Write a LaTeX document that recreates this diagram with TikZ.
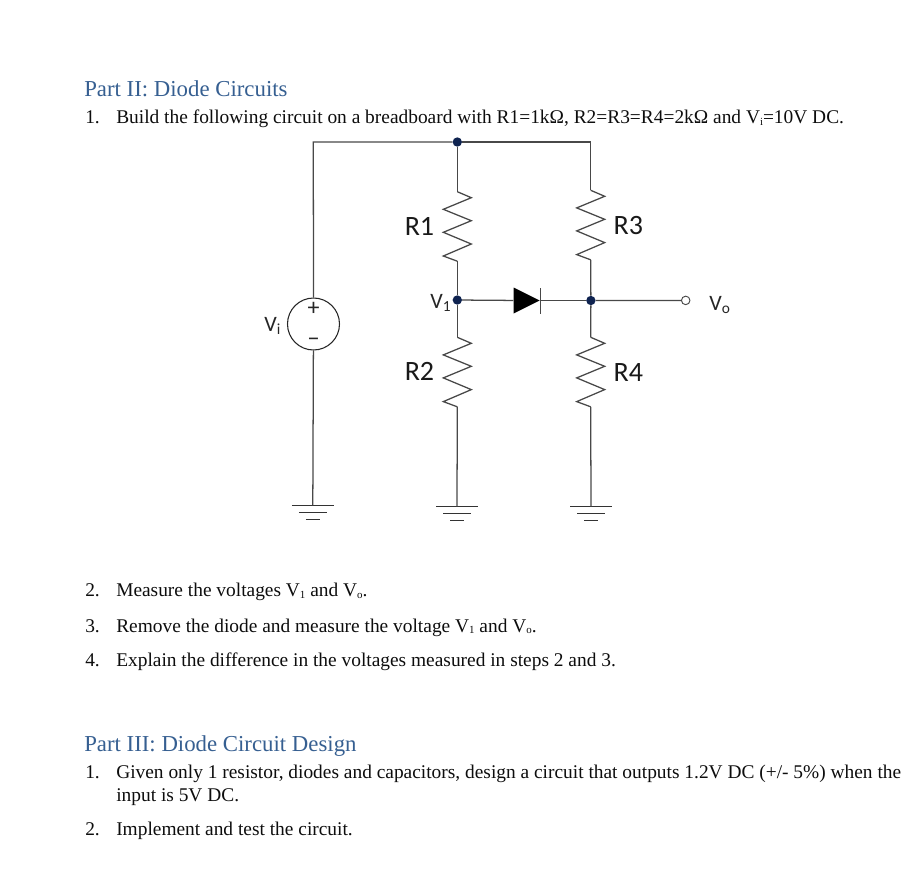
\documentclass[tikz,border=0pt]{standalone}
\usepackage{fontspec}
\setmainfont{Liberation Serif}
\setsansfont{Carlito}
\usepackage{xcolor}
\usepackage{tikz}
\usetikzlibrary{
    arrows.meta,
    calc,
    positioning,
    shapes.geometric
}
\definecolor{wire_gray}{HTML}{484848}
\definecolor{dot_navy}{HTML}{0F2350}
\definecolor{head_blue}{HTML}{365F91}
\newcommand{\lowsub}[1]{\raisebox{-1.2pt}{\fontsize{8.2}{9}\selectfont #1}}

\begin{document}
\begin{tikzpicture}[
    x=0.75pt,
    y=-0.75pt,
    wire_style/.style={
        draw=wire_gray,
        line width=0.95pt
    },
    gnd_style/.style={
        draw=black!80,
        line width=0.95pt
    },
    dot_style/.style={
        circle,
        fill=dot_navy,
        inner sep=0pt,
        minimum size=7pt
    },
    pin_style/.style={
        circle,
        draw=wire_gray,
        fill=white,
        line width=0.7pt,
        inner sep=0pt,
        minimum size=6.4pt
    },
    source_style/.style={
        circle,
        draw=black!85,
        line width=0.8pt,
        inner sep=0pt,
        minimum size=39pt
    },
    diode_style/.style={
        isosceles triangle,
        isosceles triangle stretches,
        shape border rotate=0,
        fill=black,
        inner sep=0pt,
        minimum width=19.5pt,
        minimum height=19.5pt
    },
    part_label/.style={
        anchor=base west,
        inner sep=0pt,
        font=\sffamily\fontsize{21}{24}\selectfont,
        text=black!90
    },
    volt_label/.style={
        anchor=base west,
        inner sep=0pt,
        font=\sffamily\fontsize{16.5}{20}\selectfont,
        text=black!85
    },
    sign_label/.style={
        inner sep=0pt,
        font=\sffamily\fontsize{18}{20}\selectfont,
        text=black!85
    },
    head_style/.style={
        anchor=base west,
        inner sep=0pt,
        text=head_blue,
        font=\fontsize{17.1}{20}\selectfont
    },
    text_style/.style={
        anchor=base west,
        inner sep=0pt,
        text=black!95,
        font=\fontsize{14.55}{17}\selectfont
    },
    resistor/.pic={
        \coordinate (-top) at (0,0);
        \coordinate (-bot) at (0,69.5);
        \draw[wire_style] (-top) -- (14,6) -- (-14,17.6) -- (14,29) -- (-14,40.6)
            -- (14,52.3) -- (-14,64.3) -- (-bot);
    }
]
\useasboundingbox (0,0) rectangle (907,883);

% --- Text above the circuit ---
\node[head_style] (part_two) at (84,96.2) {Part II: Diode Circuits};
\node[text_style] (num_build) at (85,123.7) {1.};
\node[text_style] (step_build) at (116,123.7) {Build the following circuit on a breadboard with R1=1kΩ, R2=R3=R4=2kΩ and V\lowsub{i}=10V DC.};

% --- Circuit nodes ---
\node[dot_style] (J_top) at (457.3,142) {};
\coordinate (C_left) at (313.3,142);
\coordinate (C_right) at (590.7,142);
\node[source_style] (Vsrc) at (313.5,324) {};
\node[sign_label] (V_plus) at (313.5,308.5) {+};
\node[sign_label] (V_minus) at (313.5,342.5) {−};

\node[dot_style] (J_v1) at (457.3,300) {};
\node[dot_style] (J_vo) at (590.9,300.5) {};
\node[pin_style] (P_vo) at (685.7,300.4) {};
\node[diode_style, anchor=apex] (D1) at (540.3,300.5) {};
\coordinate (D1_up) at (540.5,288);
\coordinate (D1_down) at (540.5,314);

\pic (R1) at (457.3,191.7) {resistor};
\pic (R2) at (457.3,337.3) {resistor};
\pic (R3) at (590.7,190.3) {resistor};
\pic (R4) at (590.7,337.3) {resistor};

% Ground bars
\coordinate (G_a) at (312.8,505.3);
\coordinate (G_b) at (457,506.7);
\coordinate (G_c) at (591,506.7);
\foreach \g in {G_a,G_b,G_c}{
    \draw[gnd_style] ($(\g)+(-21,0)$) -- ($(\g)+(21,0)$);
    \draw[gnd_style] ($(\g)+(-14,7)$) -- ($(\g)+(14,7)$);
    \draw[gnd_style] ($(\g)+(-7,14)$) -- ($(\g)+(7,14)$);
}

% --- Edges ---
\draw[wire_style] (Vsrc) -- (C_left) -- (J_top);
\draw[wire_style] (J_top) -- (C_right) -- (R3-top);
\draw[wire_style] (J_top) -- (R1-top);
\draw[wire_style] (R1-bot) -- (J_v1);
\draw[wire_style] (J_v1) -- (R2-top);
\draw[wire_style] (R3-bot) -- (J_vo);
\draw[wire_style] (J_vo) -- (R4-top);
\draw[wire_style] (J_v1) -- (D1);
\draw[wire_style] (D1.apex) -- (J_vo);
\draw[wire_style] (J_vo) -- (P_vo);
\draw[wire_style] (D1_up) -- (D1_down);
\draw[wire_style] (Vsrc) -- (G_a);
\draw[wire_style] (R2-bot) -- (G_b);
\draw[wire_style] (R4-bot) -- (G_c);

% --- Circuit labels ---
\node[part_label] (L_r1) at (404.5,235.7) {R1};
\node[part_label] (L_r2) at (404.5,380.7) {R2};
\node[part_label] (L_r3) at (613.3,234) {R3};
\node[part_label] (L_r4) at (613.3,381) {R4};
\node[volt_label] (L_vi) at (264,331) {V\textsubscript{i}};
\node[volt_label] (L_v1) at (430,308.3) {V\textsubscript{1}};
\node[volt_label] (L_vo) at (709,310) {V\textsubscript{o}};

% --- Text below the circuit ---
\node[text_style] (num_measure) at (85,596.7) {2.};
\node[text_style] (step_measure) at (116,596.7) {Measure the voltages V\lowsub{1} and V\lowsub{o}.};
\node[text_style] (num_remove) at (85,632.3) {3.};
\node[text_style] (step_remove) at (116,632.3) {Remove the diode and measure the voltage V\lowsub{1} and V\lowsub{o}.};
\node[text_style] (num_explain) at (85,666.3) {4.};
\node[text_style] (step_explain) at (116,666.3) {Explain the difference in the voltages measured in steps 2 and 3.};

\node[head_style] (part_three) at (84,751) {Part III: Diode Circuit Design};
\node[text_style] (num_given) at (85,778.3) {1.};
\node[text_style] (step_given) at (116,778.3) {Given only 1 resistor, diodes and capacitors, design a circuit that outputs 1.2V DC (+/- 5\%) when the};
\node[text_style] (step_input) at (116,801.3) {input is 5V DC.};
\node[text_style] (num_test) at (85,835.7) {2.};
\node[text_style] (step_test) at (116,835.7) {Implement and test the circuit.};

\end{tikzpicture}
\end{document}
